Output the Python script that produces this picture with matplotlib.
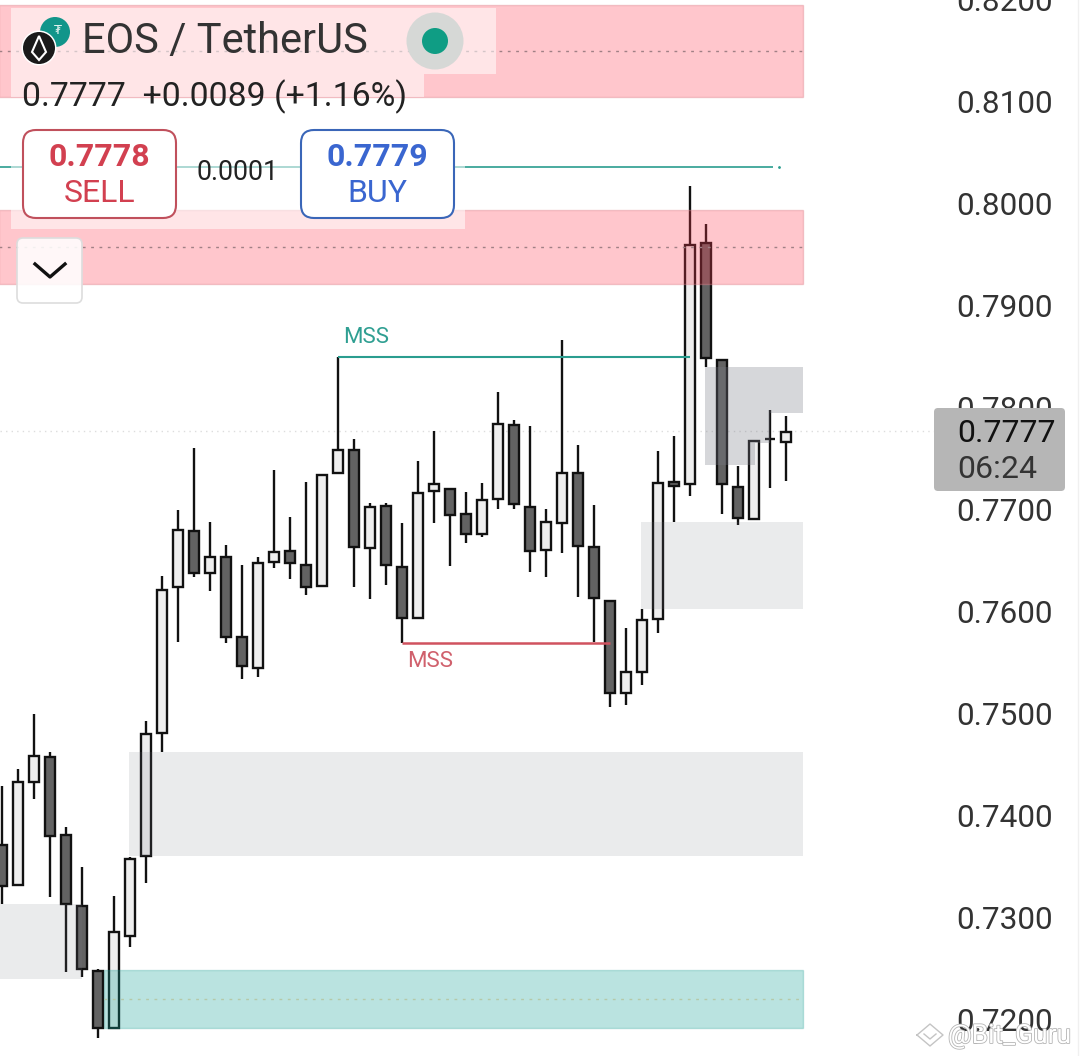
import matplotlib
matplotlib.use("Agg")
import matplotlib.pyplot as plt
import matplotlib.patheffects as pe
from matplotlib.patches import Rectangle, FancyBboxPatch, Circle, Polygon

plt.rcParams['font.family'] = ['Roboto', 'DejaVu Sans']

# candles (first one is cut by the left edge)
opens = [.73716, .73324, .74333, .74578, .73814, .73118, .7248, .71922, .72824, .73608,
         .74814, .76245, .76794, .76382, .76539, .75755, .75451, .7649, .76598, .76461,
         .76255, .77363, .77588, .76627, .77039, .76441, .75941, .77186, .77206, .76961,
         .76765, .77108, .77833, .77029, .76608, .76873, .77363, .76637, .76108, .75206,
         .75412, .75931, .77275, .77255, .79618, .78471, .77225, .76912, .77696, .77667]
closes = [.73314, .74333, .74588, .73804, .73137, .725, .71922, .72863, .73578, .74804,
          .76216, .76804, .76382, .76539, .75755, .75471, .7648, .76588, .7648, .76245,
          .77343, .77588, .76637, .77029, .76461, .75941, .77167, .77255, .76951, .76765,
          .77098, .77843, .77059, .76598, .76882, .77363, .76647, .76137, .75206, .75412,
          .75922, .77265, .77235, .79598, .7849, .77255, .76922, .77676, .77696, .77765]
highs = [.74294, .74461, .75, .74627, .73892, .735, .725, .73216, .73598, .74931,
         .76353, .77, .77608, .76882, .76657, .76461, .76539, .77392, .76931, .77275,
         .77343, .785, .77696, .77069, .77069, .76873, .7748, .77775, .77206, .77176,
         .77265, .78157, .77882, .77824, .7701, .78667, .77637, .77049, .76108, .75843,
         .76029, .77578, .77725, .80176, .79804, .78471, .77431, .77676, .7798, .77922]
lows = [.73137, .73314, .74167, .73206, .72471, .72422, .71824, .71922, .72716, .73343,
        .74627, .75706, .76343, .76206, .75696, .75343, .75363, .76431, .76324, .76167,
        .76255, .77363, .76245, .76127, .76265, .75696, .75941, .76873, .76451, .76676,
        .76735, .7701, .7701, .76392, .76343, .76578, .76147, .75706, .75069, .75088,
        .75284, .75794, .76882, .77137, .78402, .76961, .76853, .76902, .77216, .77284]

price_ticks = [.82, .81, .80, .79, .78, .77, .76, .75, .74, .73, .72]
last_price = 0.7777

# zones: bar from, bar to, price low, price high
red_zones = [(-0.2, 50.06, .8105, .8195), (-0.2, 50.06, .79216, .79941)]
red_mids = [.815, .79578]
grey_zones = [(7.94, 50.06, .73608, .74627), (39.94, 50.06, .76029, .76882), (-0.2, 5.0, .72402, .73137)]
dark_zones = [(43.94, 50.06, .77951, .78402), (43.94, 47.06, .77441, .77951), (47.06, 48.0, .77657, .77951)]
teal_zone = (6.35, 50.06, .71922, .7249)
teal_mid = .72206
ask_line = .80363
mss_up = (21, 43, .785)
mss_down = (25, 38, .75696)

LIGHT, DARK, EDGE = '#eeeeee', '#636363', '#111111'

fig = plt.figure(figsize=(10.8, 10.56), dpi=100, facecolor='white')
ax = fig.add_axes([0, 0, 935 / 1080, 1])
ax.set_xlim(-0.125, 58.3125)
ax.set_ylim(0.71647, 0.82)
for s in ax.spines.values():
    s.set_visible(False)
ax.set_xticks([])
ax.yaxis.tick_right()
ax.set_yticks(price_ticks)
ax.set_yticklabels([f'{p:.4f}' for p in price_ticks], fontsize=22.7, color='#333333')
ax.tick_params(axis='y', length=0, pad=15.2)

ax.axhline(last_price, color='#dddddd', lw=1, ls=(0, (1, 3)), zorder=1)

# candles
xs = list(range(len(opens)))
ax.vlines(xs, lows, highs, color=EDGE, lw=1.7, zorder=3)
for i in xs:
    bottom = min(opens[i], closes[i])
    height = abs(closes[i] - opens[i])
    ax.bar(i, height, bottom=bottom, width=0.62, color=LIGHT if closes[i] >= opens[i] else DARK,
           edgecolor=EDGE, linewidth=1.7, zorder=4)

# mss lines
ax.hlines(mss_up[2], mss_up[0], mss_up[1], color='#2a9d8f', lw=1.5, zorder=5)
ax.hlines(mss_down[2], mss_down[0], mss_down[1], color='#d0525f', lw=1.8, zorder=5)
ax.text(22.75, .78696, 'MSS', color='#2f9f92', fontsize=16, ha='center', va='center')
ax.text(26.75, .75515, 'MSS', color='#d0606c', fontsize=16, ha='center', va='center')

ax.hlines(ask_line, -0.2, 48.2, color='#2a9d8f', lw=1.2, zorder=2)
ax.plot([48.55], [ask_line], marker='.', ms=2, color='#2a9d8f', zorder=2)

# zones sit over the candles
for x0, x1, lo, hi in red_zones:
    ax.add_patch(Rectangle((x0, lo), x1 - x0, hi - lo, fc=(1, 60/255, 80/255, .29),
                           ec=(220/255, 130/255, 140/255, .4), lw=1, zorder=6))
ax.hlines(red_mids, -0.2, 50.06, color='#a08085', lw=1, ls=(0, (2, 4)), zorder=6)
for x0, x1, lo, hi in grey_zones:
    ax.add_patch(Rectangle((x0, lo), x1 - x0, hi - lo, fc=(120/255, 123/255, 134/255, .15), lw=0, zorder=6))
for x0, x1, lo, hi in dark_zones:
    ax.add_patch(Rectangle((x0, lo), x1 - x0, hi - lo, fc=(120/255, 123/255, 134/255, .30), lw=0, zorder=6))
x0, x1, lo, hi = teal_zone
ax.add_patch(Rectangle((x0, lo), x1 - x0, hi - lo, fc=(20/255, 160/255, 150/255, .29),
                       ec=(20/255, 150/255, 140/255, .25), lw=1, zorder=6))
ax.hlines(teal_mid, x0, x1, color='#b5c9a8', lw=1, ls=(0, (2, 4)), zorder=6)

# app overlay in pixel coords
ui = fig.add_axes([0, 0, 1, 1], facecolor='none')
ui.set_xlim(0, 1080)
ui.set_ylim(1056, 0)
ui.axis('off')

for x, y, w, h in [(11, 8, 485, 66), (11, 74, 413, 23), (11, 130, 454, 99)]:
    ui.add_patch(Rectangle((x, y), w, h, fc=(1, 1, 1, .55), lw=0))

ui.add_patch(Circle((55, 32), 15, fc='#12958a', lw=0))
ui.text(58, 30, '₮', fontsize=9, color='#e8f5f2', ha='center', va='center', family=['DejaVu Sans'])
ui.add_patch(Circle((39, 48), 17.5, fc='white', lw=0))
ui.add_patch(Circle((39, 48), 16, fc='#1a1a1a', lw=0))
ui.add_patch(Polygon([(39, 36), (46, 52), (39, 60), (32, 52)], fc='#1a1a1a', ec='white', lw=1.5))
ui.add_patch(Circle((435, 41), 28.5, fc='#d6d8d6', lw=0))
ui.add_patch(Circle((435, 41), 13, fc='#0f9d84', lw=0))

ui.text(82, 41, 'EOS / TetherUS', fontsize=30, color='#333333', va='center', ha='left')
ui.text(22, 97, '0.7777  +0.0089 (+1.16%)', fontsize=24.3, color='#222222', va='center', ha='left')

for x, col, price, label in [(23, '#c0505c', '0.7778', 'SELL'), (301, '#3a66b8', '0.7779', 'BUY')]:
    tcol = '#d24050' if label == 'SELL' else '#3a66d0'
    ui.add_patch(FancyBboxPatch((x + 12, 130 + 12), 153 - 24, 88 - 24,
                                boxstyle='round,pad=12,rounding_size=13', fc='white', ec=col, lw=1.5))
    ui.text(x + 76.5, 157, price, fontsize=23, fontweight='bold', color=tcol, ha='center', va='center')
    ui.text(x + 76.5, 193, label, fontsize=23, color=tcol, ha='center', va='center')
ui.text(237.5, 172, '0.0001', fontsize=19.2, color='#222222', ha='center', va='center')

ui.add_patch(FancyBboxPatch((25, 246), 49, 49, boxstyle='round,pad=8,rounding_size=6',
                            fc=(1, 1, 1, .88), ec='#dddddd', lw=1.2))
ui.plot([35, 50, 65], [264, 277, 264], color='#111111', lw=2.4)

# last price box
ui.add_patch(FancyBboxPatch((938, 412), 123, 75, boxstyle='round,pad=4,rounding_size=4', fc='#b6b6b6', lw=0))
ui.text(957, 433, '0.7777', fontsize=23, color='#111111', va='center', ha='left')
ui.text(957, 470, '06:24', fontsize=23, color='#333333', va='center', ha='left')

ui.plot([1078, 1078], [0, 1056], color='#f0f0f0', lw=1)

# watermark
wm = [pe.withStroke(linewidth=1.2, foreground='#b5b5b5')]
ui.text(948, 1036, '@Bit_Guru', fontsize=19, color='white', va='center', ha='left', path_effects=wm)
ui.plot([917, 930, 943, 930, 917], [1035, 1046, 1035, 1024, 1035], color='#c4c4c4', lw=1)
ui.plot([924, 930, 936], [1034, 1039, 1034], color='#c4c4c4', lw=1)

fig.savefig('out.png', dpi=100)
